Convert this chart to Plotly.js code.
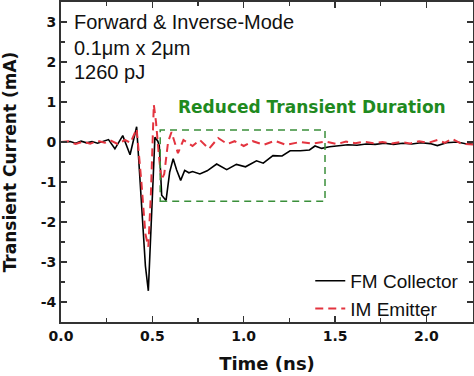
<!DOCTYPE html>
<html>
<head>
<meta charset="utf-8">
<script src="https://cdn.plot.ly/plotly-3.0.1.min.js"></script>
<style>html,body{margin:0;padding:0;background:#fff;}#chart{width:474px;height:376px;}</style>
</head>
<body>
<div id="chart"></div>
<script>
// FM Collector (black solid)
var fmTime = [0.00,0.05,0.08,0.11,0.14,0.17,0.20,0.23,0.26,0.295,0.338,0.378,0.414,0.44,0.462,0.478,0.49,0.505,0.514,0.53,0.538,0.551,0.575,0.595,0.614,0.633,0.655,0.677,0.70,0.72,0.76,0.80,0.852,0.907,0.96,1.01,1.07,1.107,1.16,1.21,1.254,1.31,1.36,1.39,1.427,1.47,1.52,1.57,1.62,1.67,1.72,1.77,1.82,1.87,1.92,1.97,2.02,2.06,2.11,2.17,2.22,2.255];
var fmCurrent = [0.00,0.01,-0.03,0.02,-0.02,0.01,-0.03,0.02,0.06,-0.17,0.16,-0.32,0.38,-1.5,-3.1,-3.72,-2.5,-0.8,0.12,0.02,-0.1,-1.33,-1.46,-0.75,-0.42,-0.7,-0.96,-0.71,-0.77,-0.74,-0.8,-0.72,-0.55,-0.69,-0.56,-0.62,-0.47,-0.53,-0.34,-0.35,-0.22,-0.22,-0.2,-0.1,-0.16,-0.12,-0.1,-0.07,-0.08,-0.05,-0.06,-0.03,-0.06,-0.03,-0.05,-0.02,-0.04,-0.09,-0.02,0.0,-0.05,-0.02];

// IM Emitter (red dashed)
var imTime = [0.00,0.04,0.08,0.12,0.16,0.20,0.24,0.27,0.31,0.35,0.38,0.414,0.44,0.462,0.478,0.492,0.508,0.52,0.535,0.55,0.565,0.586,0.605,0.64,0.67,0.70,0.72,0.76,0.81,0.86,0.91,0.95,1.00,1.05,1.11,1.17,1.23,1.31,1.38,1.45,1.51,1.56,1.61,1.66,1.71,1.76,1.81,1.86,1.91,1.96,2.01,2.06,2.10,2.14,2.19,2.255];
var imCurrent = [0.00,0.02,-0.05,0.01,-0.04,0.03,-0.02,0.04,-0.05,0.05,-0.02,0.33,-1.0,-2.3,-2.62,-1.3,0.93,0.5,-0.3,-0.95,-0.8,0.0,0.25,-0.28,0.05,-0.05,-0.1,0.05,-0.17,0.1,-0.05,0.02,-0.1,0.02,-0.07,0.03,-0.07,0.0,-0.04,0.01,-0.05,0.01,-0.03,0.01,-0.03,0.0,-0.04,0.0,-0.04,0.02,-0.02,0.05,-0.02,0.08,-0.04,-0.06];

var seriesNames = ["FM Collector", "IM Emitter"];
var infoLines = ["Forward &amp; Inverse-Mode", "0.1\u03bcm x 2\u03bcm", "1260 pJ"];
var infoY = [3.0, 2.35, 1.75];
var boxLabel = "Reduced Transient Duration";
var boxX = [0.543, 1.445];
var boxY = [-1.48, 0.3];
var xTickVals = [0, 0.5, 1.0, 1.5, 2.0];
var xTickText = ["0.0", "0.5", "1.0", "1.5", "2.0"];
var yTickVals = [-4, -3, -2, -1, 0, 1, 2, 3];
var yTickText = ["-4", "-3", "-2", "-1", "0", "1", "2", "3"];

var traces = [
  {x: fmTime, y: fmCurrent, name: seriesNames[0], type: "scatter", mode: "lines",
   line: {color: "#000000", width: 1.6}},
  {x: imTime, y: imCurrent, name: seriesNames[1], type: "scatter", mode: "lines",
   line: {color: "#e3343f", width: 2, dash: "8px,5px"}}
];

var annotations = infoLines.map(function (t, i) {
  return {text: t, xref: "paper", yref: "y", x: 0.027, y: infoY[i], xanchor: "left", yanchor: "middle",
          showarrow: false, font: {family: "Liberation Sans, Arial, sans-serif", size: 20, color: "#111"}};
});
annotations.push({text: "<b>" + boxLabel + "</b>", xref: "x", yref: "y", x: 1.374, y: 0.88,
  xanchor: "center", yanchor: "middle", showarrow: false,
  font: {family: "DejaVu Sans, Verdana, sans-serif", size: 17, color: "#1f8a1f"}});

var layout = {
  width: 474, height: 376,
  margin: {l: 61, r: 1, t: 2, b: 54},
  paper_bgcolor: "#fff", plot_bgcolor: "#fff",
  showlegend: true,
  legend: {x: 0.605, y: 0.188, xanchor: "left", yanchor: "top", bgcolor: "rgba(0,0,0,0)",
           font: {family: "Liberation Sans, Arial, sans-serif", size: 19, color: "#111"},
           tracegroupgap: 0, itemwidth: 30},
  xaxis: {range: [0, 2.255], tickvals: xTickVals, ticktext: xTickText,
          ticks: "inside", ticklen: 6, tickwidth: 1.5, tickcolor: "#333",
          showline: true, linecolor: "#333", linewidth: 2, mirror: "allticks",
          showgrid: false, zeroline: false,
          minor: {dtick: 0.25, tick0: 0, ticks: "inside", ticklen: 4, tickwidth: 1.2, tickcolor: "#333", showgrid: false},
          tickfont: {family: "DejaVu Sans, Verdana, sans-serif", size: 14, color: "#111", weight: "bold"},
          title: {text: "<b>Time (ns)</b>", standoff: 15,
                  font: {family: "DejaVu Sans, Verdana, sans-serif", size: 18, color: "#111"}}},
  yaxis: {range: [-4.5, 3.5], tickvals: yTickVals, ticktext: yTickText,
          ticks: "inside", ticklen: 6, tickwidth: 1.5, tickcolor: "#333",
          showline: true, linecolor: "#333", linewidth: 2, mirror: "allticks",
          showgrid: false, zeroline: false,
          minor: {dtick: 0.5, tick0: 0, ticks: "inside", ticklen: 4, tickwidth: 1.2, tickcolor: "#333", showgrid: false},
          tickfont: {family: "DejaVu Sans, Verdana, sans-serif", size: 14, color: "#111", weight: "bold"},
          title: {text: "<b>Transient Current (mA)</b>", standoff: 20,
                  font: {family: "DejaVu Sans, Verdana, sans-serif", size: 17, color: "#111"}}},
  shapes: [{type: "rect", xref: "x", yref: "y", x0: boxX[0], x1: boxX[1], y0: boxY[0], y1: boxY[1],
            line: {color: "#3a8f3a", width: 1.5, dash: "7px,5px"}, fillcolor: "rgba(0,0,0,0)"}],
  annotations: annotations
};

Plotly.newPlot("chart", traces, layout, {displayModeBar: false, staticPlot: true});
</script>
</body>
</html>
